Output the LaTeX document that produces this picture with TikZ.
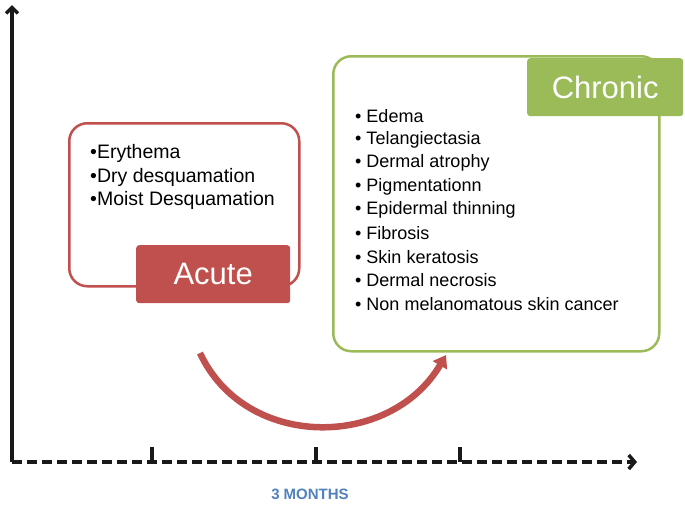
\documentclass[tikz,border=0pt]{standalone}
\usepackage{fontspec}
\setmainfont{Liberation Sans}
\usetikzlibrary{arrows.meta}
\definecolor{acred}{HTML}{C0504D}
\definecolor{chgreen}{HTML}{9BBB59}
\definecolor{mblue}{HTML}{4F81BD}
\begin{document}
\begin{tikzpicture}[x=1pt,y=-1pt,
  outer/.style={draw,line width=2.5pt,rounded corners=18pt,fill=white},
  lbl/.style={rounded corners=3pt,text=white,font=\fontsize{31}{34}\selectfont,inner sep=0pt},
  item/.style={anchor=west,font=\fontsize{18}{20}\selectfont,inner sep=0pt},
  aitem/.style={item,font=\fontsize{19.5}{22}\selectfont},
  axis/.style={line width=3.5pt,black!90}]
\useasboundingbox (0,0) rectangle (685,525);
\node[outer,draw=acred,minimum width=230pt,minimum height=163pt,anchor=north west] (acutebox) at (68,122) {};
\node[lbl,fill=acred,minimum width=154pt,minimum height=58pt,anchor=north west] (acute) at (136,245) {Acute};
\node[aitem] (a1) at (90,153) {•Erythema};
\node[aitem] (a2) at (90,177) {•Dry desquamation};
\node[aitem] (a3) at (90,200) {•Moist Desquamation};
\node[outer,draw=chgreen,minimum width=326pt,minimum height=295pt,anchor=north west] (chronbox) at (332,55) {};
\node[lbl,fill=chgreen,minimum width=156pt,minimum height=58pt,anchor=north west] (chronic) at (527,58) {Chronic};
\foreach \t [count=\i] in {Edema,Telangiectasia,Dermal atrophy,Pigmentationn,Epidermal thinning,Fibrosis,Skin keratosis,Dermal necrosis,Non melanomatous skin cancer}
  \node[item] (c\i) at (355,{116+23.5*(\i-1)}) {• \t};
\coordinate (o) at (12,462);
\coordinate (ytop) at (12,5);
\coordinate (xend) at (637,462);
\draw[axis,-{Straight Barb[length=6pt,width=12pt]}] (o) -- (ytop);
\draw[axis,dash pattern=on 10pt off 5pt,-{Straight Barb[length=6pt,width=14pt]}] (o) -- (xend);
\foreach \x in {152,316,460} \draw[axis] (\x,447) -- (\x,462);
\coordinate (arcs) at (200,353);
\coordinate (arce) at (446,355);
\draw[acred,line width=6.5pt,-{Triangle[length=12pt,width=16pt]}] (arcs) .. controls (245,450) and (390,450) .. (arce);
\node[text=mblue,font=\bfseries\fontsize{15}{17}\selectfont] (months) at (310,494) {3 MONTHS};
\end{tikzpicture}
\end{document}
